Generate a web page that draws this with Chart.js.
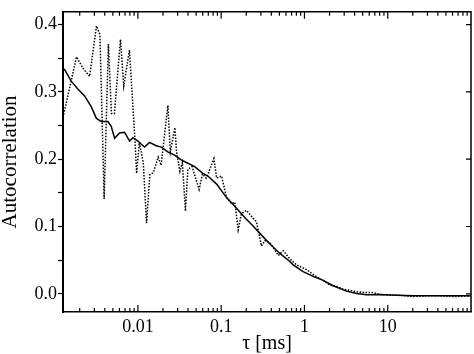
<!DOCTYPE html>
<html>
<head>
<meta charset="utf-8">
<script src="https://cdn.jsdelivr.net/npm/chart.js@4/dist/chart.umd.min.js"></script>
<style>
  html, body { margin: 0; padding: 0; background: #fff; }
</style>
</head>
<body>
<canvas id="chart" width="474" height="354"></canvas>
<script>
// tau [ms] and autocorrelation
const tauSolid = [0.00126, 0.00132, 0.00158, 0.00191, 0.00229, 0.00275, 0.00316, 0.00362, 0.00436, 0.00478,
  0.00525, 0.00603, 0.00692, 0.00795, 0.00871, 0.0100, 0.0120, 0.0138, 0.0166, 0.0191,
  0.0229, 0.0276, 0.0331, 0.0398, 0.0480, 0.0603, 0.0692, 0.0881, 0.116, 0.153,
  0.193, 0.240, 0.317, 0.385, 0.507, 0.668, 0.731, 0.964, 1.27, 1.68,
  2.21, 3.20, 4.22, 5.56, 8.04, 12.8, 20.2, 32.0, 50.8, 92.3, 100];
const acfSolid = [0.335, 0.333, 0.316, 0.304, 0.294, 0.278, 0.261, 0.256, 0.256, 0.249,
  0.231, 0.239, 0.240, 0.227, 0.232, 0.227, 0.218, 0.225, 0.220, 0.218,
  0.211, 0.206, 0.199, 0.194, 0.189, 0.179, 0.175, 0.163, 0.143, 0.127,
  0.113, 0.101, 0.085, 0.074, 0.060, 0.048, 0.043, 0.033, 0.026, 0.020,
  0.012, 0.004, 0.0005, -0.0015, -0.001, -0.002, -0.003, -0.003, -0.003, -0.003, -0.003];

const tauDotted = [0.00126, 0.00183, 0.00219, 0.00263, 0.00318, 0.00350, 0.00393, 0.00442, 0.00481, 0.00522,
  0.00617, 0.00676, 0.00791, 0.0092, 0.00965, 0.0104, 0.0116, 0.0127, 0.0139, 0.0153,
  0.0175, 0.0190, 0.0229, 0.0245, 0.0278, 0.0291, 0.0319, 0.0342, 0.0372, 0.0398,
  0.0448, 0.0543, 0.0595, 0.0660, 0.0700, 0.0818, 0.0881, 0.101, 0.116, 0.133,
  0.146, 0.160, 0.175, 0.201, 0.232, 0.265, 0.305, 0.334, 0.385, 0.486,
  0.557, 0.668, 0.801, 1.06, 1.33, 1.62, 2.02, 2.45, 2.90, 3.52,
  4.25, 5.30, 6.63, 8.04, 10.6, 14.0, 19.4, 27.9, 42.2, 63.6, 100];
const acfDotted = [0.262, 0.352, 0.335, 0.323, 0.398, 0.385, 0.141, 0.371, 0.268, 0.268,
  0.378, 0.309, 0.362, 0.230, 0.179, 0.225, 0.195, 0.105, 0.177, 0.180,
  0.203, 0.191, 0.280, 0.211, 0.247, 0.211, 0.182, 0.195, 0.123, 0.185,
  0.189, 0.155, 0.178, 0.172, 0.179, 0.201, 0.172, 0.175, 0.143, 0.134,
  0.136, 0.095, 0.119, 0.124, 0.115, 0.107, 0.071, 0.079, 0.076, 0.057,
  0.064, 0.052, 0.043, 0.036, 0.027, 0.021, 0.013, 0.011, 0.007, 0.005,
  0.003, 0.002, 0.002, -0.001, -0.002, -0.002, -0.004, -0.003, -0.003, -0.004, -0.003];

const xLabels = [0.01, 0.1, 1, 10];
const yLabels = [0.0, 0.1, 0.2, 0.3, 0.4];
const decades = [0.001, 0.01, 0.1, 1, 10];

const serif = "'Liberation Serif', 'Times New Roman', serif";
const ink = '#000';

const xTicks = [];
decades.forEach(d => {
  for (let m = 1; m <= 9; m++) {
    const v = +(m * d).toPrecision(2);
    if (v > 0.00126) xTicks.push(v);
  }
});
const yTicks = [0, 0.05, 0.1, 0.15, 0.2, 0.25, 0.3, 0.35, 0.4];

// frame on top/right plus inward tick marks
const frameTicks = {
  id: 'frameTicks',
  afterDraw(chart) {
    const { ctx, chartArea: a, scales: { x, y } } = chart;
    ctx.save();
    ctx.strokeStyle = ink;
    ctx.lineWidth = 1.5;
    ctx.beginPath();
    ctx.moveTo(a.left, a.top);
    ctx.lineTo(a.right, a.top);
    ctx.lineTo(a.right, a.bottom);
    ctx.stroke();
    ctx.lineWidth = 1.2;
    ctx.beginPath();
    x.ticks.forEach(t => {
      const px = x.getPixelForValue(t.value);
      const len = xLabels.includes(t.value) ? 7 : 4;
      ctx.moveTo(px, a.bottom);
      ctx.lineTo(px, a.bottom - len);
      ctx.moveTo(px, a.top);
      ctx.lineTo(px, a.top + len);
    });
    yLabels.forEach(v => {
      const py = y.getPixelForValue(v);
      ctx.moveTo(a.right, py);
      ctx.lineTo(a.right - 5, py);
    });
    ctx.stroke();
    ctx.restore();
  }
};

new Chart(document.getElementById('chart'), {
  type: 'scatter',
  data: {
    datasets: [
      {
        label: 'measured',
        data: tauDotted.map((t, i) => ({ x: t, y: acfDotted[i] })),
        showLine: true,
        borderColor: ink,
        borderWidth: 1.5,
        borderDash: [1.5, 1.5],
        pointRadius: 0,
        tension: 0
      },
      {
        label: 'fit',
        data: tauSolid.map((t, i) => ({ x: t, y: acfSolid[i] })),
        showLine: true,
        borderColor: ink,
        borderWidth: 1.5,
        pointRadius: 0,
        tension: 0
      }
    ]
  },
  options: {
    responsive: false,
    animation: false,
    layout: { padding: { top: 2, right: 3, left: 0, bottom: 0 } },
    plugins: {
      legend: { display: false },
      tooltip: { enabled: false }
    },
    scales: {
      x: {
        type: 'logarithmic',
        min: 0.00126,
        max: 100,
        afterBuildTicks: s => { s.ticks = xTicks.map(v => ({ value: v })); },
        afterFit: s => { s.height = 42; },
        border: { display: true, color: ink, width: 1.5 },
        grid: { display: false, drawTicks: false },
        ticks: {
          autoSkip: false,
          maxRotation: 0,
          padding: 4,
          color: ink,
          font: { family: serif, size: 18 },
          callback: v => xLabels.includes(v) ? String(v) : ''
        },
        title: {
          display: true,
          text: 'τ [ms]',
          color: ink,
          font: { family: serif, size: 20, lineHeight: 1 },
          padding: { top: 0, bottom: 0 }
        }
      },
      y: {
        min: -0.027,
        max: 0.419,
        afterBuildTicks: s => { s.ticks = yTicks.map(v => ({ value: v })); },
        afterFit: s => { s.width = 63; },
        border: { display: true, color: ink, width: 2 },
        grid: { drawOnChartArea: false, drawTicks: true, tickLength: 5, tickColor: ink, tickWidth: 1.2 },
        ticks: {
          autoSkip: false,
          padding: 1,
          color: ink,
          font: { family: serif, size: 18 },
          callback: v => {
            const r = Math.round(v * 100);
            return r % 10 === 0 ? (r / 100).toFixed(1) : '';
          }
        },
        title: {
          display: true,
          text: 'Autocorrelation',
          color: ink,
          font: { family: serif, size: 21, lineHeight: 1 },
          padding: { top: 0, bottom: 0 }
        }
      }
    }
  },
  plugins: [frameTicks]
});
</script>
</body>
</html>
